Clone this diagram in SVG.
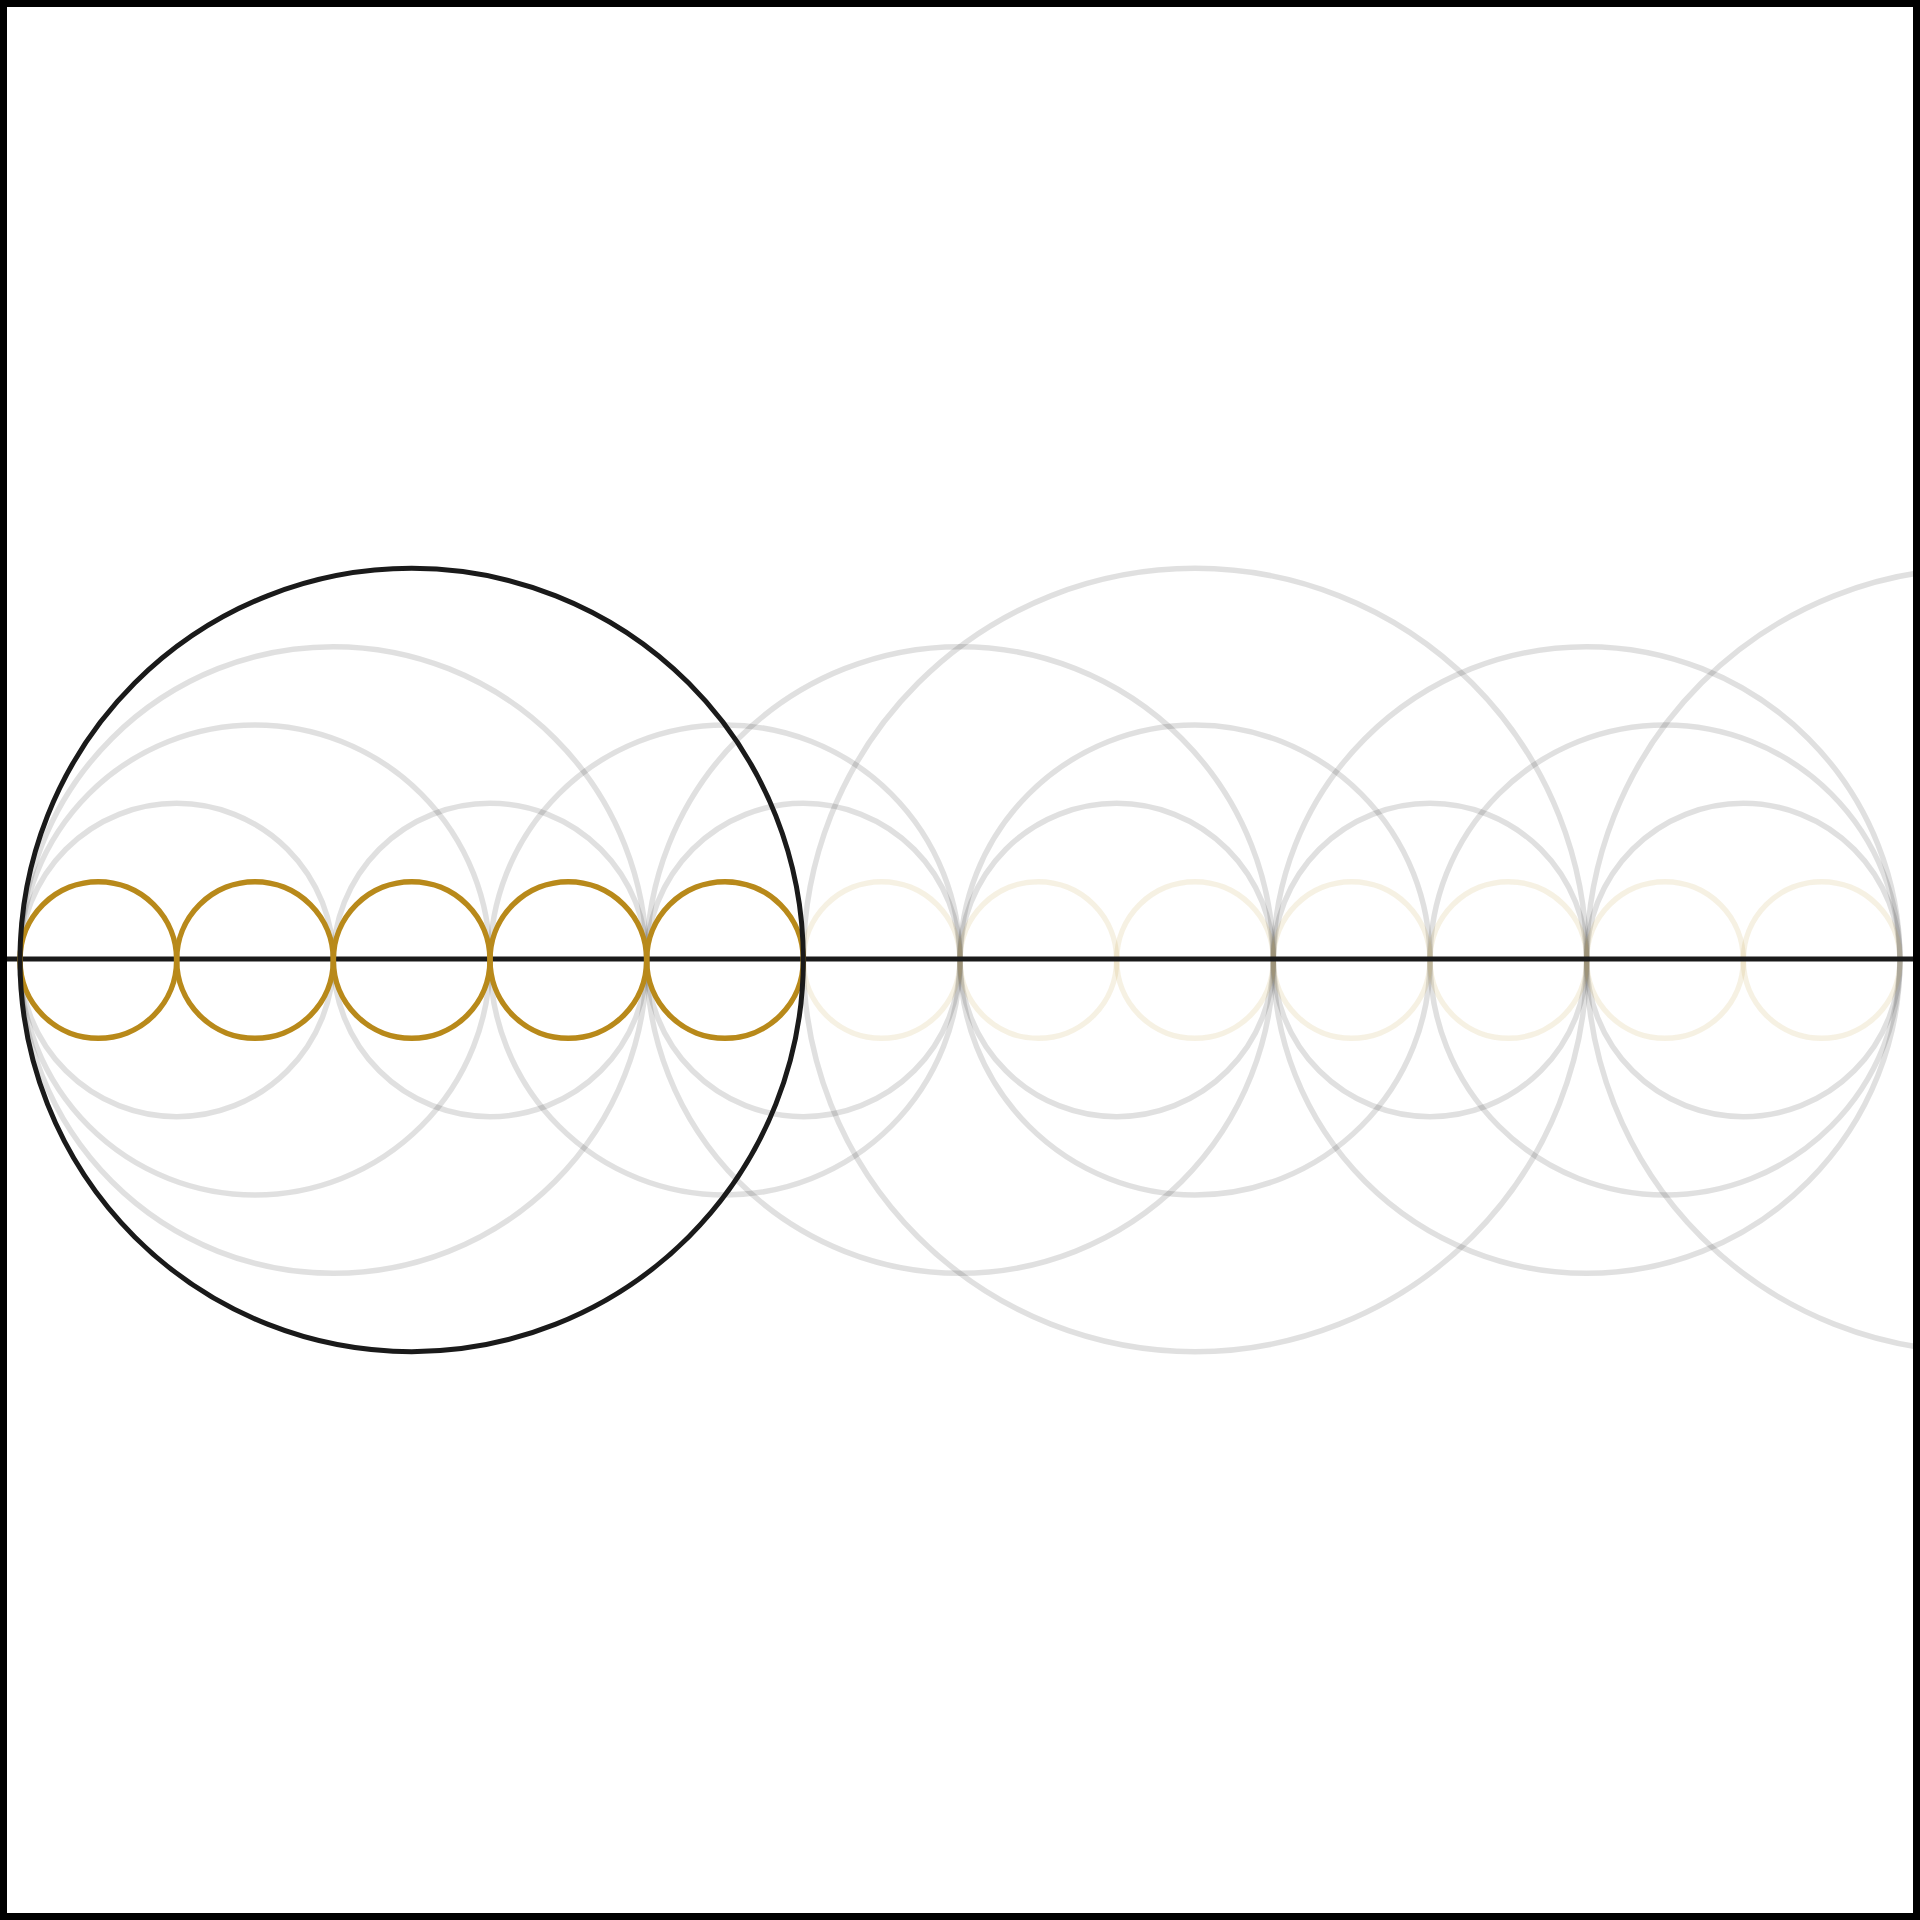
<svg xmlns="http://www.w3.org/2000/svg" width="1920" height="1920" viewBox="0 0 1920 1920">
<style>
.g{fill:none;stroke:#000;stroke-opacity:0.12;stroke-width:5.5}
.au{fill:none;stroke:#b8891a;stroke-width:5.5}
.auf{fill:none;stroke:#b8891a;stroke-opacity:0.12;stroke-width:5.5}
</style>
<rect x="0" y="0" width="1920" height="1920" fill="#fff"/>
<g id="gray-circles">
<circle class="g" cx="176.667" cy="960" r="156.667"/>
<circle class="g" cx="490" cy="960" r="156.667"/>
<circle class="g" cx="803.333" cy="960" r="156.667"/>
<circle class="g" cx="1116.667" cy="960" r="156.667"/>
<circle class="g" cx="1430" cy="960" r="156.667"/>
<circle class="g" cx="1743.333" cy="960" r="156.667"/>
<circle class="g" cx="255" cy="960" r="235"/>
<circle class="g" cx="725" cy="960" r="235"/>
<circle class="g" cx="1195" cy="960" r="235"/>
<circle class="g" cx="1665" cy="960" r="235"/>
<circle class="g" cx="333.333" cy="960" r="313.333"/>
<circle class="g" cx="960" cy="960" r="313.333"/>
<circle class="g" cx="1586.667" cy="960" r="313.333"/>
<circle class="g" cx="1195" cy="960" r="391.667"/>
<circle class="g" cx="1978.333" cy="960" r="391.667"/>
</g>
<g id="faded-gold">
<circle class="auf" cx="881.667" cy="960" r="78.333"/>
<circle class="auf" cx="1038.333" cy="960" r="78.333"/>
<circle class="auf" cx="1195" cy="960" r="78.333"/>
<circle class="auf" cx="1351.667" cy="960" r="78.333"/>
<circle class="auf" cx="1508.333" cy="960" r="78.333"/>
<circle class="auf" cx="1665" cy="960" r="78.333"/>
<circle class="auf" cx="1821.667" cy="960" r="78.333"/>
</g>
<g id="axis">
<line x1="0" y1="959" x2="1920" y2="959" stroke="#1a1a1a" stroke-width="5"/>
</g>
<g id="gold-circles">
<circle class="au" cx="98.333" cy="960" r="78.333"/>
<circle class="au" cx="255" cy="960" r="78.333"/>
<circle class="au" cx="411.667" cy="960" r="78.333"/>
<circle class="au" cx="568.333" cy="960" r="78.333"/>
<circle class="au" cx="725" cy="960" r="78.333"/>
</g>
<g id="big-circle">
<circle cx="411.667" cy="960" r="391.667" fill="none" stroke="#1a1a1a" stroke-width="5"/>
</g>
<rect id="frame" x="3.5" y="3.5" width="1913" height="1913" fill="none" stroke="#000" stroke-width="7"/>
</svg>
